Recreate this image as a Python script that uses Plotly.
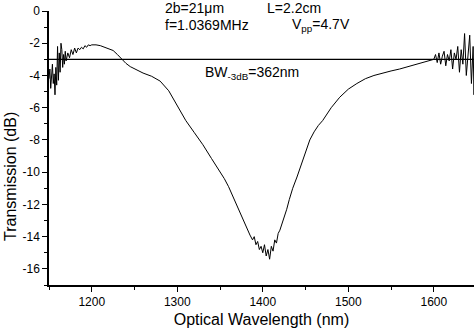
import plotly.graph_objects as go

wavelength = [
    1150, 1151, 1152, 1153, 1154, 1155, 1156, 1157, 1158, 1159, 1160, 1161, 1162, 1163, 1164,
    1165, 1166, 1167, 1168, 1169, 1170, 1172, 1174, 1176, 1178, 1180, 1182, 1184, 1186, 1188,
    1190, 1192, 1194, 1196, 1198, 1200,
    1205, 1210, 1215, 1220, 1225, 1230, 1235, 1240, 1245, 1250, 1260, 1270, 1280, 1290, 1300,
    1310, 1320, 1330, 1340, 1350, 1355, 1360, 1365, 1370, 1375, 1380, 1385, 1388, 1390, 1392,
    1394, 1396, 1398, 1400, 1402, 1404, 1406, 1408, 1410, 1412, 1414, 1416, 1418, 1420, 1422,
    1425, 1428, 1431, 1435, 1440, 1445, 1450, 1455, 1460, 1465, 1470, 1480, 1490, 1500, 1510,
    1520, 1530, 1540, 1550, 1560, 1570, 1580, 1590, 1595,
    1600, 1602, 1604, 1606, 1608, 1610, 1612, 1614, 1616, 1618, 1620, 1622, 1624, 1626, 1628,
    1630, 1632, 1634, 1636, 1638, 1640, 1642, 1644, 1646, 1647, 1648, 1649, 1650,
]
transmission = [
    -4.2, -3.6, -4.8, -4.0, -3.3, -4.5, -3.9, -5.2, -3.5, -4.6, -2.2, -4.3, -2.6, -3.8, -2.0,
    -2.4, -3.5, -2.7, -3.3, -2.5, -3.1, -2.6, -2.9, -2.4, -2.7, -2.3, -2.6, -2.3, -2.4, -2.25,
    -2.35, -2.15, -2.25, -2.1, -2.15, -2.1,
    -2.1, -2.15, -2.25, -2.35, -2.45, -2.7, -3.0, -3.25, -3.45, -3.6, -3.85, -4.05, -4.35, -4.95, -5.9,
    -6.8, -7.55, -8.3, -9.15, -9.95, -10.4, -10.9, -11.5, -12.1, -12.8, -13.4, -13.9, -14.2, -14.0, -14.5,
    -14.3, -14.8, -14.6, -15.0, -14.5, -15.2, -14.8, -15.4, -14.6, -14.9, -14.2, -14.4, -13.8, -13.6, -13.3,
    -12.8, -12.3, -11.7, -11.0, -10.3, -9.5, -8.7, -8.0, -7.5, -7.1, -6.8, -6.0, -5.35, -4.85, -4.5,
    -4.2, -4.0, -3.85, -3.72, -3.6, -3.45, -3.3, -3.15, -3.05,
    -3.0, -2.7, -3.2, -2.6, -3.3, -2.8, -2.5, -3.4, -2.7, -3.1, -2.4, -3.6, -2.6, -3.0, -2.2,
    -3.8, -2.4, -3.3, -1.4, -4.0, -2.6, -1.5, -4.5, -2.2, -5.2, -3.0, -6.5, -7.7,
]

ref_x = [1150, 1650]
ref_level = [-3, -3]

x_ticks = [1200, 1300, 1400, 1500, 1600]
y_ticks = [-16, -14, -12, -10, -8, -6, -4, -2, 0]

font_family = "Liberation Sans, Arial, sans-serif"

fig = go.Figure()
fig.add_trace(go.Scatter(x=ref_x, y=ref_level, mode="lines",
                         line=dict(color="black", width=1.3), showlegend=False))
fig.add_trace(go.Scatter(x=wavelength, y=transmission, mode="lines",
                         line=dict(color="black", width=1), showlegend=False))

fig.update_layout(
    width=474, height=332,
    margin=dict(l=49, r=0, t=11, b=47),
    paper_bgcolor="white", plot_bgcolor="white",
    font=dict(family=font_family, color="black", size=12),
    xaxis=dict(
        range=[1150, 1647], tickvals=x_ticks, ticktext=[str(v) for v in x_ticks],
        ticks="outside", ticklen=5, tickwidth=1.2, tickcolor="black",
        minor=dict(dtick=50, ticks="outside", ticklen=3, tickwidth=1, tickcolor="black"),
        showline=True, linecolor="black", linewidth=1.5, mirror=False,
        showgrid=False, zeroline=False,
        title=dict(text="Optical Wavelength (nm)", font=dict(size=16), standoff=6),
        tickfont=dict(size=12),
    ),
    yaxis=dict(
        range=[-17, 0], tickvals=y_ticks, ticktext=[str(v) for v in y_ticks],
        ticks="outside", ticklen=5, tickwidth=1.2, tickcolor="black",
        minor=dict(dtick=1, ticks="outside", ticklen=3, tickwidth=1, tickcolor="black"),
        showline=True, linecolor="black", linewidth=1.5, mirror=False,
        showgrid=False, zeroline=False,
        tickfont=dict(size=12),
    ),
)

ann = dict(xref="paper", yref="paper", showarrow=False, xanchor="left", yanchor="middle",
           font=dict(size=14, color="black", family=font_family))
fig.add_annotation(x=(163 - 49) / 425, y=(285 - 8) / 274, text="2b=21μm", **ann)
fig.add_annotation(x=(163 - 49) / 425, y=(285 - 25) / 274, text="f=1.0369MHz", **ann)
fig.add_annotation(x=(265 - 49) / 425, y=(285 - 8) / 274, text="L=2.2cm", **ann)
fig.add_annotation(x=(290 - 49) / 425, y=(285 - 25) / 274, text="V<sub>pp</sub>=4.7V", **ann)
fig.add_annotation(x=(203 - 49) / 425, y=(285 - 73) / 274, text="BW<sub>-3dB</sub>=362nm", **ann)
fig.add_annotation(x=(10 - 49) / 425, y=(285 - 177) / 274, text="Transmission (dB)",
                   xref="paper", yref="paper", showarrow=False, textangle=-90,
                   xanchor="center", yanchor="middle",
                   font=dict(size=16, color="black", family=font_family))

fig.write_html("out.html")
